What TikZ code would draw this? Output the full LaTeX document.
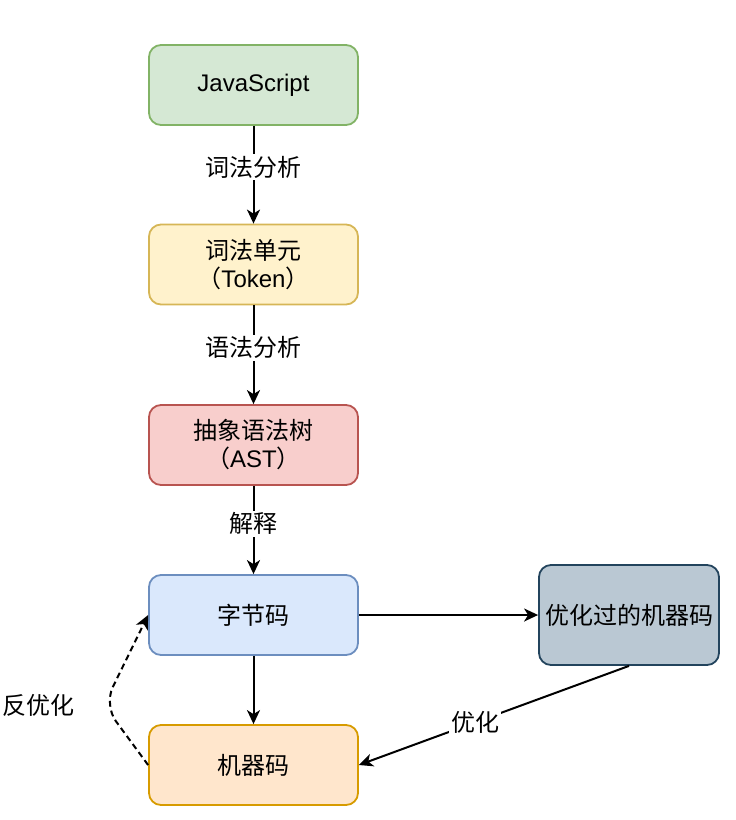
\documentclass[tikz,border=0pt]{standalone}
\usepackage{fontspec}
\setmainfont{Liberation Sans}
\newfontfamily\cjk{Noto Sans CJK SC}
\usepackage{xcolor}
\usepackage{tikz}
\usetikzlibrary{arrows.meta}
\definecolor{jsfill}{HTML}{D5E8D4}
\definecolor{jsline}{HTML}{82B366}
\definecolor{tokfill}{HTML}{FFF2CC}
\definecolor{tokline}{HTML}{D6B656}
\definecolor{astfill}{HTML}{F8CECC}
\definecolor{astline}{HTML}{B85450}
\definecolor{bytefill}{HTML}{DAE8FC}
\definecolor{byteline}{HTML}{6C8EBF}
\definecolor{machfill}{HTML}{FFE6CC}
\definecolor{machline}{HTML}{D79B00}
\definecolor{optfill}{HTML}{BAC8D3}
\definecolor{optline}{HTML}{23445D}
\tikzset{
	box/.style={rectangle,draw,rounded corners=12pt,line width=1.8pt,minimum width=209pt,
		minimum height=80pt,align=center,font=\fontsize{24}{28}\selectfont},
	jsbox/.style={box,fill=jsfill,draw=jsline},
	tokbox/.style={box,fill=tokfill,draw=tokline},
	astbox/.style={box,fill=astfill,draw=astline},
	bytebox/.style={box,fill=bytefill,draw=byteline},
	machbox/.style={box,fill=machfill,draw=machline},
	optbox/.style={box,fill=optfill,draw=optline,minimum width=180pt,minimum height=100pt},
	lbl/.style={fill=white,inner sep=2pt,font=\cjk\fontsize{24}{28}\selectfont}
}

\begin{document}
\begin{tikzpicture}[x=1pt,y=-1pt,->,>={Stealth[length=14pt,width=13pt,inset=4pt]},line width=2pt]
	\useasboundingbox (0,0) rectangle (736,820);
	\node [jsbox] (js) at (253.5,85) {JavaScript};
	\node [tokbox] (token) at (253.5,264.5) {{\cjk 词法单元}\\{\cjk （}Token{\cjk ）}};
	\node [astbox] (ast) at (253.5,445) {{\cjk 抽象语法树}\\{\cjk （}AST{\cjk ）}};
	\node [bytebox] (bytecode) at (253.5,615) {\cjk 字节码};
	\node [machbox] (machine) at (253.5,765) {\cjk 机器码};
	\node [optbox] (optcode) at (629,615) {\cjk 优化过的机器码};
	\node [lbl] (deopt) at (38,705) {反优化};

	\draw (js) -- node[lbl,pos=0.42] {词法分析} (token);
	\draw (token) -- node[lbl,pos=0.43] {语法分析} (ast);
	\draw (ast) -- node[lbl,pos=0.43] {解释} (bytecode);
	\draw (bytecode) -- (machine);
	\draw (bytecode) -- (optcode);
	\draw (optcode.south) -- node[lbl,pos=0.57] {优化} (machine.east);
	\draw [dash pattern=on 6pt off 4pt,rounded corners=20pt] (machine.west) -- (104,705) -- (bytecode.west);
\end{tikzpicture}
\end{document}
